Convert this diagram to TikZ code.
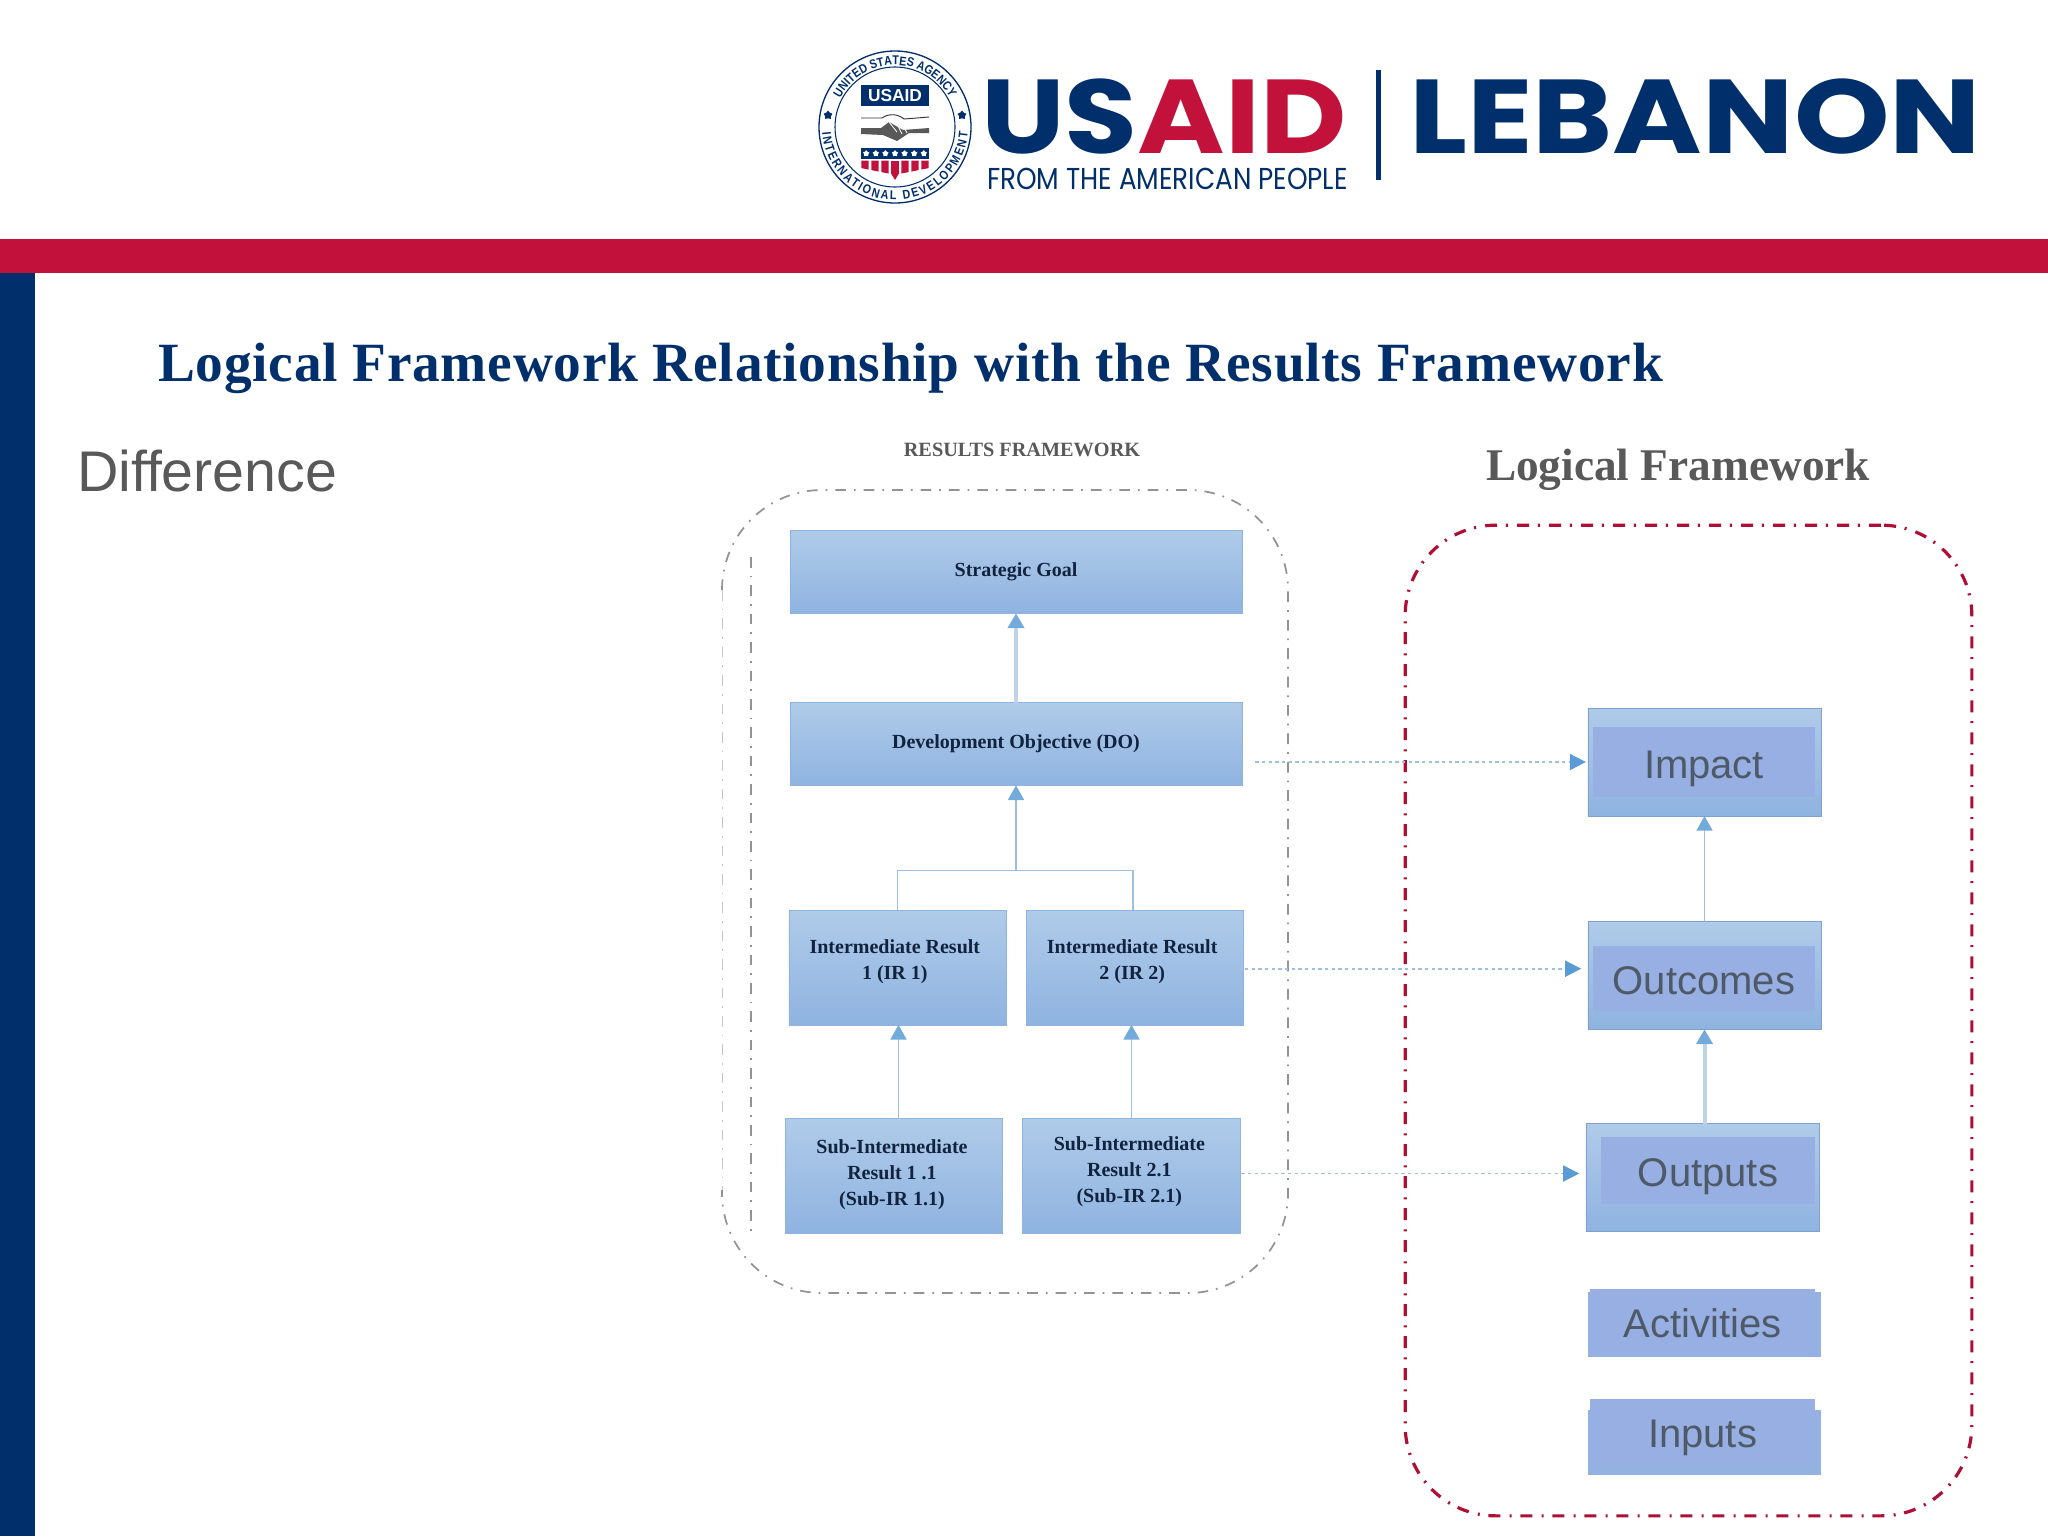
\documentclass[tikz,border=0pt]{standalone}
\usepackage{fontspec}
\usepackage{xcolor}
\usepackage{graphicx}
\setmainfont{Liberation Serif}
\setsansfont{Liberation Sans}
\newfontfamily\logofont{Poppins}
\newfontfamily\sealfont[FakeStretch=0.85]{Liberation Sans}
\usepackage{tikz}
\usetikzlibrary{arrows.meta,positioning,shapes.geometric,decorations.text}
\definecolor{usnavy}{HTML}{002F6C}
\definecolor{usred}{HTML}{C2113A}
\definecolor{ink}{HTML}{12233F}
\definecolor{slate}{HTML}{4E5A68}
\definecolor{greytext}{HTML}{595959}
\definecolor{boxtop}{HTML}{AFCBE9}
\definecolor{boxbot}{HTML}{8FB3E0}
\definecolor{panelblue}{HTML}{98AFE3}
\definecolor{tipblue}{HTML}{5B9BD5}
\definecolor{linkblue}{HTML}{9DBFE0}
\definecolor{paleblue}{HTML}{BFD3E8}
\begin{document}
\begin{tikzpicture}[
    x=.75pt,y=-.75pt,
    every node/.style={inner sep=0pt,outer sep=0pt},
    rtext/.style={align=center,text=ink,font=\bfseries\fontsize{15}{19.5}\selectfont},
    rbox/.style={rtext,draw=boxbot,top color=boxtop,bottom color=boxbot},
    widebox/.style={rbox,minimum width=339pt,minimum height=62pt},
    smallbox/.style={rbox,minimum width=163pt,minimum height=86pt},
    lbox/.style={draw=boxbot!90!black,top color=boxtop,bottom color=boxbot,minimum width=175pt,minimum height=81pt},
    panel/.style={fill=panelblue,text=slate,font=\sffamily\fontsize{30}{30}\selectfont,text height=24pt,text depth=0pt},
    lowbox/.style={fill=boxbot!60!panelblue,minimum width=175pt},
    rframe/.style={draw=gray!85,line width=1.3pt,dash pattern=on 8pt off 6pt on 1.3pt off 6pt},
    lframe/.style={draw=usred!90!black,line width=2.4pt,rounded corners=68pt,minimum width=425pt,minimum height=743pt,
      dash pattern=on 9pt off 7pt on 1.5pt off 6.5pt},
    uparrow/.style={-{Triangle[length=11pt,width=12pt,color=tipblue!85!white]},line width=1.1pt,color=linkblue},
    palearrow/.style={uparrow,line width=3pt,color=paleblue},
    treeline/.style={line width=1.1pt,color=linkblue},
    dotarrow/.style={-{Triangle[length=12pt,width=12pt,color=tipblue]},line width=1.4pt,color=linkblue,
      dash pattern=on 2.5pt off 2.5pt,shorten >=5pt},
    logo/.style={anchor=base west},
    sealtext/.style 2 args={decorate,decoration={text along path,text align=#1,
      text={|\sealfont\bfseries\fontsize{9.5}{9.5}\selectfont\color{usnavy}|#2}}}
  ]
    \useasboundingbox (0,0) rectangle (2048,1536);
    \fill[white] (0,0) rectangle (2048,1536);
    % page bands
    \fill[usred] (0,239) rectangle (2048,273);
    \fill[usnavy] (0,273) rectangle (35,1536);

    % seal
    \begin{scope}[shift={(895,127)},y=.75pt]
      \draw[usnavy,line width=1pt] (0,0) circle (76);
      \draw[usnavy,line width=.8pt] (0,0) circle (60);
      \path[sealtext={center}{UNITED STATES AGENCY}] (172:62) arc (172:8:62);
      \path[sealtext={fit to path}{INTERNATIONAL DEVELOPMENT}] (184:73) arc (184:356:73);
      \node[star,star points=5,fill=usnavy,minimum size=7pt] (sealstarl) at (170:68) {};
      \node[star,star points=5,fill=usnavy,minimum size=7pt] (sealstarr) at (10:68) {};
      \node[fill=usnavy,text=white,minimum width=51pt,minimum height=16pt,font=\sffamily\bfseries\fontsize{13}{13}\selectfont] (sealname) at (0,31.5) {USAID};
      % handshake
      \draw[black!80,line width=.7pt] (-34,9) -- (-13,9) .. controls (-6,14) and (3,13) .. (9,8) -- (34,10);
      \fill[black!65] (-34,-7) -- (-34,-1) -- (-14,-1) -- (-6,5) -- (8,-3) -- (34,-1) -- (34,-6) -- (14,-6) -- (2,-14) -- (-12,-8) -- cycle;
      \draw[white,line width=.6pt] (-6,5) -- (2,-5) (0,7) -- (7,-7) (6,6) -- (12,-6);
      % shield
      \fill[usnavy] (-34,-21) rectangle (34,-32);
      \foreach \i in {-3,...,3}
        \node[star,star points=5,fill=white,minimum size=5pt] (barstar\i) at (\i*9.6,-26.5) {};
      \foreach \i in {-3,...,3} {
        \pgfmathsetmacro{\lft}{\i*10-3.6}
        \pgfmathsetmacro{\rgt}{\i*10+3.6}
        \pgfmathsetmacro{\lbot}{-41-(34-abs(\lft))*0.2}
        \pgfmathsetmacro{\rbot}{-41-(34-abs(\rgt))*0.2}
        \fill[usred] (\lft,-33.5) -- (\rgt,-33.5) -- (\rgt,\rbot) -- (\lft,\lbot) -- cycle;
      }
      \fill[usred] (-3.6,-47) -- (3.6,-47) -- (0,-53) -- cycle;
    \end{scope}

    % wordmark
    \node[logo] (usaid) at (981,153) {\resizebox{274pt}{56pt}{\logofont\bfseries\textcolor{usnavy}{US}\textcolor{usred}{AID}}};
    \node[logo] (people) at (987,189) {\resizebox{270.5pt}{16pt}{\logofont\textcolor{usnavy}{FROM THE AMERICAN PEOPLE}}};
    \fill[usnavy] (1375.5,70) rectangle (1380.5,180);
    \node[logo] (lebanon) at (1409,153) {\resizebox{429pt}{56pt}{\logofont\bfseries\textcolor{usnavy}{LEBANON}}};

    % headings
    \node[logo,text=usnavy,font=\bfseries\fontsize{41.5}{41.5}\selectfont\addfontfeature{LetterSpace=1.4}] (title) at (158,381.5) {Logical Framework Relationship with the Results Framework};
    \node[logo,text=greytext,font=\sffamily\fontsize{43}{43}\selectfont] (diff) at (77,491) {Difference};
    \node[text=greytext,font=\bfseries\fontsize{15.2}{15.2}\selectfont] (rfhead) at (1022,450) {RESULTS FRAMEWORK};
    \node[text=greytext,font=\bfseries\fontsize{34}{34}\selectfont] (lfhead) at (1678,470) {Logical Framework};

    % frames
    \draw[rframe,rounded corners=75pt] (722,590) -- (722,490) -- (1288,490) -- (1288,1293) -- (722,1293) -- (722,1190);
    \draw[rframe,draw=gray!45,line width=.7pt] (722,590) -- (722,1190);
    \draw[rframe] (751,557) -- (751,1235);
    \node[lframe] (lfframe) at (1688.5,1020.5) {};

    % results framework
    \node[widebox] (goal) at (1016,572) {Strategic Goal};
    \node[widebox,below=67pt of goal] (devobj) {Development Objective (DO)};
    \node[smallbox] (ironebox) at (897.5,967.5) {};
    \node[smallbox,right=15pt of ironebox] (irtwobox) {};
    \node[rtext] (irone) at ([xshift=-2pt,yshift=4.5pt]ironebox) {Intermediate Result\\1 (IR 1)};
    \node[rtext] (irtwo) at ([xshift=-2pt,yshift=4.5pt]irtwobox) {Intermediate Result\\2 (IR 2)};
    \node[smallbox] (suboneBox) at (894,1176) {};
    \node[smallbox,right=15pt of suboneBox] (subtwoBox) {};
    \node[rtext] (subone) at ([xshift=-1.5pt,yshift=1pt]suboneBox) {Sub-Intermediate\\Result 1 .1\\(Sub-IR 1.1)};
    \node[rtext] (subtwo) at ([xshift=-1.5pt,yshift=3.5pt]subtwoBox) {Sub-Intermediate\\Result 2.1\\(Sub-IR 2.1)};
    \coordinate[below=64pt of devobj] (treejoin);

    % logical framework
    \node[lbox] (impactbox) at (1704.5,762) {};
    \node[panel,minimum width=166.5pt,minimum height=52.5pt] (impact) at (1704,762) {Impact};
    \node[lbox,below=79pt of impactbox] (outcomesbox) {};
    \node[panel,minimum width=166.5pt,minimum height=49pt] (outcomes) at (1704,978.5) {Outcomes};
    \node[lbox] (outputsbox) at (1702.5,1177.5) {};
    \node[panel,minimum width=160.5pt,minimum height=50pt] (outputs) at (1708,1170.5) {Outputs};
    \node[lowbox,minimum height=48.5pt] (activitiesbox) at (1704.5,1324.5) {};
    \node[panel,minimum width=169pt,minimum height=49pt] (activities) at (1702.5,1321.5) {Activities};
    \node[lowbox,minimum height=49pt] (inputsbox) at (1704.5,1442.5) {};
    \node[panel,minimum width=169pt,minimum height=49pt] (inputs) at (1702.5,1431.5) {Inputs};

    % links
    \draw[palearrow] (devobj) -- (goal);
    \draw[uparrow] (treejoin) -- (devobj);
    \draw[treeline] (ironebox.north) |- (treejoin) -| ([xshift=-1.5pt]irtwobox.north);
    \draw[uparrow] ([xshift=.75pt]suboneBox.north -| ironebox.south) -- ([xshift=.75pt]ironebox.south);
    \draw[uparrow] ([xshift=-2.5pt]subtwoBox.north -| irtwobox.south) -- ([xshift=-2.5pt]irtwobox.south);
    \draw[uparrow] (outcomesbox.north) -- (impactbox.south);
    \draw[palearrow] (outputsbox.north -| outcomesbox.south) -- (outcomesbox.south);
    \draw[dotarrow,shorten >=1.5pt] ([xshift=10pt]devobj.east |- impactbox.west) -- (impactbox.west);
    \draw[dotarrow] ([xshift=1pt,yshift=5pt]irtwobox.east |- outcomesbox.west) -- ([yshift=5pt]outcomesbox.west);
    \draw[dotarrow] ([xshift=1pt,yshift=3pt]subtwoBox.east |- outputsbox.west) -- ([yshift=3pt]outputsbox.west);
  \end{tikzpicture}
\end{document}
